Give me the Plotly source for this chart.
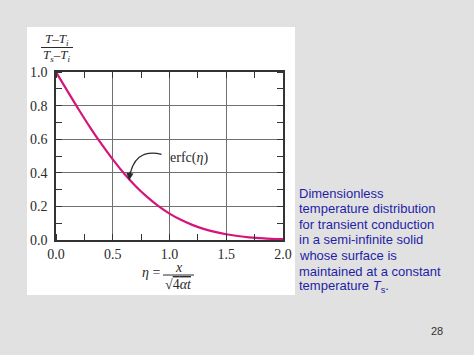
import plotly.graph_objects as go

# data
eta = [0.0, 0.1, 0.2, 0.3, 0.4, 0.5, 0.6, 0.7, 0.8, 0.9, 1.0,
       1.1, 1.2, 1.3, 1.4, 1.5, 1.6, 1.7, 1.8, 1.9, 2.0]
erfc_vals = [1.00, 0.888, 0.777, 0.671, 0.572, 0.480, 0.396, 0.322, 0.258, 0.203, 0.157,
             0.120, 0.090, 0.066, 0.048, 0.034, 0.024, 0.016, 0.011, 0.007, 0.005]
x_ticks = [0.0, 0.5, 1.0, 1.5, 2.0]
x_tick_labels = ["0.0", "0.5", "1.0", "1.5", "2.0"]
y_ticks = [0.0, 0.2, 0.4, 0.6, 0.8, 1.0]
y_tick_labels = ["0.0", "0.2", "0.4", "0.6", "0.8", "1.0"]
side_text = ["Dimensionless", "temperature distribution", "for transient conduction",
             "in a semi-infinite solid", "whose surface is",
             "maintained at a constant", "temperature <i>T</i><sub>s</sub>."]

W, H = 474, 355
L, R, T, B = 56, 283, 72, 240


def px(x):
    return (x - L) / (R - L)


def py(y):
    return (B - y) / (B - T)


SERIF = "Liberation Serif"
CURVE = "#d4157c"
INK = "#2a2a2a"

fig = go.Figure()
fig.add_trace(go.Scatter(x=eta, y=erfc_vals, mode="lines",
                         line=dict(color=CURVE, width=2.2, shape="spline"),
                         hoverinfo="skip", showlegend=False))

axis_common = dict(showgrid=True, gridcolor="#707070", gridwidth=1,
                   showline=True, linecolor="#333333", linewidth=1.5, mirror="ticks",
                   ticks="", zeroline=False, fixedrange=True,
                   tickfont=dict(family=SERIF, size=14, color=INK))

fig.update_xaxes(range=[0, 2], tickvals=x_ticks, ticktext=x_tick_labels,
                 ticklabelstandoff=0,
                 minor=dict(ticks="inside", ticklen=6, tickcolor="#333333",
                            dtick=0.25, tick0=0, showgrid=False),
                 **axis_common)
fig.update_yaxes(range=[0, 1], tickvals=y_ticks, ticktext=y_tick_labels,
                 ticklabelstandoff=4,
                 minor=dict(ticks="inside", ticklen=6, tickcolor="#333333",
                            dtick=0.1, tick0=0, showgrid=False),
                 **axis_common)

shapes = [
    # white panel
    dict(type="rect", xref="paper", yref="paper", layer="below",
         x0=px(27), x1=px(295), y0=py(295), y1=py(27),
         fillcolor="white", line=dict(width=0)),
    # y-title fraction bar
    dict(type="line", xref="paper", yref="paper",
         x0=px(41), x1=px(73), y0=py(47.5), y1=py(47.5),
         line=dict(color=INK, width=1)),
    # x-title fraction bar
    dict(type="line", xref="paper", yref="paper",
         x0=px(163), x1=px(194), y0=py(275), y1=py(275),
         line=dict(color=INK, width=1)),
    # curved pointer
    dict(type="path", xref="x", yref="y",
         path="M 0.93,0.51 Q 0.68,0.55 0.645,0.36",
         line=dict(color=INK, width=1.2)),
]

annotations = [
    dict(x=0.645, y=0.355, xref="x", yref="y", ax=1, ay=-10, axref="pixel", ayref="pixel",
         text="", showarrow=True, arrowhead=2, arrowsize=1.2, arrowwidth=1.2,
         arrowcolor=INK, standoff=0),
    dict(x=0.99, y=0.49, xref="x", yref="y", text="erfc(<i>η</i>)", showarrow=False,
         xanchor="left", yanchor="middle",
         font=dict(family=SERIF, size=14, color=INK)),
    dict(x=px(57), y=py(39), xref="paper", yref="paper",
         text="<i>T</i>–<i>T<sub>i</sub></i>", showarrow=False,
         xanchor="center", yanchor="middle",
         font=dict(family=SERIF, size=13, color=INK)),
    dict(x=px(57), y=py(56), xref="paper", yref="paper",
         text="<i>T<sub>s</sub></i>–<i>T<sub>i</sub></i>", showarrow=False,
         xanchor="center", yanchor="middle",
         font=dict(family=SERIF, size=13, color=INK)),
    dict(x=px(151), y=py(272), xref="paper", yref="paper",
         text="<i>η</i> =", showarrow=False, xanchor="center", yanchor="middle",
         font=dict(family=SERIF, size=14, color=INK)),
    dict(x=px(178.5), y=py(267), xref="paper", yref="paper",
         text="<i>x</i>", showarrow=False, xanchor="center", yanchor="middle",
         font=dict(family=SERIF, size=14, color=INK)),
    dict(x=px(178.5), y=py(284), xref="paper", yref="paper",
         text="√<span style='text-decoration:overline'>4<i>αt</i></span>",
         showarrow=False, xanchor="center", yanchor="middle",
         font=dict(family=SERIF, size=14, color=INK)),
    dict(x=px(437), y=py(331), xref="paper", yref="paper", text="28",
         showarrow=False, xanchor="center", yanchor="middle",
         font=dict(family="Liberation Sans", size=11, color="#333333")),
]

for i, line in enumerate(side_text):
    annotations.append(dict(x=px(297), y=py(193 + i * 15.6), xref="paper", yref="paper",
                            text=line, showarrow=False, xanchor="left", yanchor="middle",
                            font=dict(family="Liberation Sans", size=13, color="#1f1fa6")))

fig.update_layout(width=W, height=H,
                  margin=dict(l=L, r=W - R, t=T, b=H - B, pad=0),
                  paper_bgcolor="#e1e1e1", plot_bgcolor="white",
                  shapes=shapes, annotations=annotations, showlegend=False)

fig.write_html("out.html", config={"displayModeBar": False})
